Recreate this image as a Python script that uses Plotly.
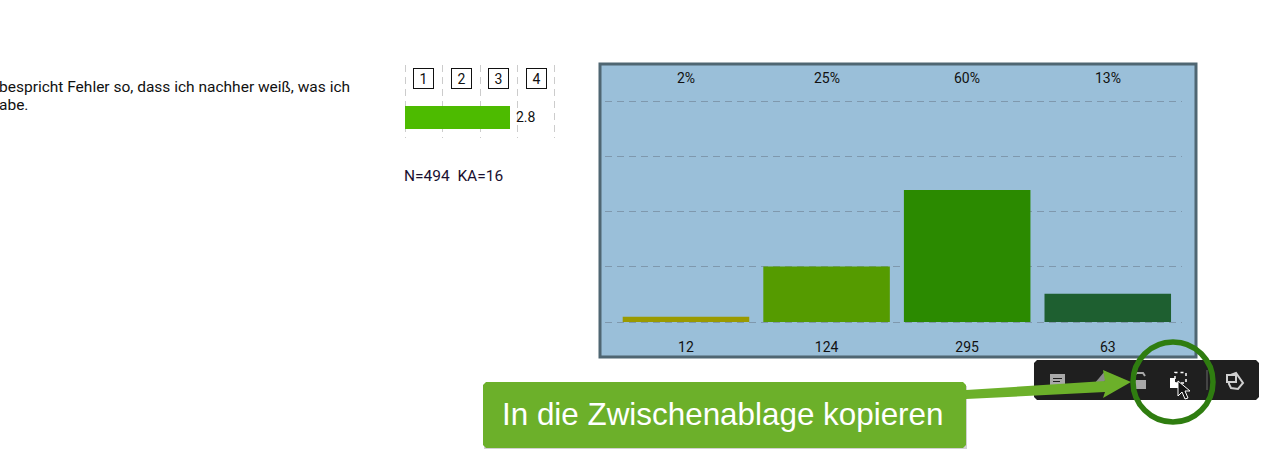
import plotly.graph_objects as go

W, H = 1262, 449

options = [1, 2, 3, 4]
counts = [12, 124, 295, 63]
percents = ["2%", "25%", "60%", "13%"]
bar_colors = ["#9a9a00", "#559b00", "#2b8a00", "#1e5f30"]
mean_score = [2.8]
n_total = 494
n_missing = 16
question_lines = ["bespricht Fehler so, dass ich nachher weiß, was ich", "abe."]
callout_text = "In die Zwischenablage kopieren"


def px(x):
    return x / W


def py(y):
    return 1 - y / H


def path(points, close=True):
    s = "M" + " L".join(f"{px(x):.5f},{py(y):.5f}" for x, y in points)
    return s + (" Z" if close else "")


def box(x0, y0, x1, y1, **kw):
    return dict(type="rect", xref="paper", yref="paper", x0=px(x0), x1=px(x1),
                y0=py(y1), y1=py(y0), **kw)


def poly(points, fill=None, line=None, width=0, close=True, **kw):
    return dict(type="path", xref="paper", yref="paper", path=path(points, close),
                fillcolor=fill, line=dict(color=line, width=width), **kw)


fig = go.Figure()

# main distribution chart
fig.add_trace(go.Bar(x=options, y=counts, width=0.9, marker=dict(color=bar_colors, line_width=0),
                     xaxis="x", yaxis="y", showlegend=False))

# mean bar on the small scale
fig.add_trace(go.Bar(x=mean_score, y=[0], orientation="h", width=1, marker=dict(color="#4dbb00", line_width=0),
                     xaxis="x2", yaxis="y2", showlegend=False))

shapes = [
    # panel behind the chart
    box(600, 64, 1196, 357, fillcolor="#9abfd9", line=dict(color="#4f6672", width=3), layer="below"),
    # toolbar
    dict(type="path", xref="paper", yref="paper", fillcolor="#1f1f1f", line_width=0,
         path=path([(1037, 360), (1256, 360), (1259, 363), (1259, 397), (1256, 400), (1037, 400), (1034, 397), (1034, 363)])),
    box(1050, 374, 1065, 386, fillcolor="#a8a8a8", line_width=0),
    box(1053, 378, 1062, 379, fillcolor="#1f1f1f", line_width=0),
    box(1053, 381, 1060, 382, fillcolor="#1f1f1f", line_width=0),
    poly([(1094, 384), (1105, 371), (1110, 375), (1100, 386)], fill="#8a8a8a"),
    box(1131, 380, 1146, 389, fillcolor="#a8a8a8", line_width=0),
    poly([(1134, 380), (1134, 375), (1137, 373), (1143, 373), (1145, 376)], line="#a8a8a8", width=2, close=False),
    box(1170, 378, 1180, 388, fillcolor="#ffffff", line_width=0),
    box(1175, 372.5, 1186, 383, fillcolor="#1f1f1f", line=dict(color="#ffffff", width=1.5, dash="dot")),
    box(1206.5, 370, 1207.5, 390, fillcolor="#6a6a6a", line_width=0),
    poly([(1228, 376), (1236, 373), (1243, 383), (1238, 389), (1231, 388), (1229, 384)], line="#cfcfcf", width=2),
    poly([(1227, 375), (1236, 375), (1236, 382), (1227, 382)], fill="#1f1f1f", line="#cfcfcf", width=2),
    # callout shadow, box and arrow
    box(484, 386, 967, 450, fillcolor="rgba(0,0,0,0.18)", line_width=0),
    poly([(966, 390), (1105, 381), (1103, 370), (1131, 382), (1103, 398), (1105, 392), (966, 399)], fill="#6cb02a"),
    poly([(486, 382), (963, 382), (966, 385), (966, 445), (963, 448), (486, 448), (483, 445), (483, 385)], fill="#6cb02a"),
    # ring
    dict(type="circle", xref="paper", yref="paper", x0=px(1133), x1=px(1213), y0=py(422), y1=py(342),
         line=dict(color="#2f7d10", width=5.5), fillcolor="rgba(0,0,0,0)"),
    # cursor
    poly([(1178, 381), (1178, 396), (1182, 392), (1185, 399), (1188, 398), (1185, 391), (1190, 391)],
         fill="#111111", line="#ffffff", width=1),
]

annotations = []

for txt, y, x in zip(question_lines, [87, 105], [-3, -3]):
    annotations.append(dict(text=txt, xref="paper", yref="paper", x=px(x), y=py(y), xanchor="left", yanchor="middle",
                            showarrow=False, font=dict(family="Roboto", size=15.5, color="#111")))

for i, opt in enumerate(options):
    # percent row above the main chart
    annotations.append(dict(text=percents[i], xref="x", yref="y domain", x=opt, y=1, yshift=21, yanchor="middle",
                            showarrow=False, font=dict(family="Roboto", size=14, color="#111")))
    # boxed scale labels, centred in each column of the small scale
    annotations.append(dict(text=str(opt), xref="x2", yref="y2", x=opt - 0.5, y=1.7, showarrow=False,
                            width=17, height=17, bordercolor="#111", borderwidth=1, borderpad=1, bgcolor="#ffffff",
                            font=dict(family="Roboto", size=14, color="#111")))

annotations.append(dict(text=str(mean_score[0]), xref="x2", yref="y2", x=mean_score[0], y=0, xanchor="left", xshift=4,
                        showarrow=False, font=dict(family="Roboto", size=14, color="#111")))
annotations.append(dict(text=f"N={n_total}  KA={n_missing}", xref="paper", yref="paper", x=px(402), y=py(176),
                        xanchor="left", yanchor="middle", showarrow=False,
                        font=dict(family="Roboto", size=15.5, color="#1a1030")))
annotations.append(dict(text=callout_text, xref="paper", yref="paper", x=px(723), y=py(414), yanchor="middle",
                        showarrow=False, font=dict(family="Liberation Sans", size=31.4, color="#ffffff")))

fig.update_layout(
    width=W, height=H, autosize=False,
    margin=dict(l=0, r=0, t=0, b=0),
    paper_bgcolor="#ffffff", plot_bgcolor="rgba(0,0,0,0)",
    shapes=shapes, annotations=annotations,
    font=dict(family="Roboto"),
    xaxis=dict(domain=[px(605), px(1182)], range=[0.424, 4.528], tickvals=options, ticktext=[str(c) for c in counts],
               ticks="outside", ticklen=10, tickcolor="rgba(0,0,0,0)", showgrid=False, zeroline=False, showline=False,
               tickfont=dict(family="Roboto", size=14, color="#111"), anchor="y"),
    yaxis=dict(domain=[py(324.24), py(98.76)], range=[-5, n_total + 5], tick0=0, dtick=n_total / 4, showticklabels=False,
               showgrid=True, griddash="7px,5px", gridcolor="#7f98ad", gridwidth=1, zeroline=False, anchor="x"),
    xaxis2=dict(domain=[px(404), px(556)], range=[-0.027, 4.027], tick0=0, dtick=1, showticklabels=False, showgrid=True,
                griddash="7px,5px", gridcolor="#cccccc", gridwidth=1, zeroline=False, anchor="y2"),
    yaxis2=dict(domain=[py(138), py(65)], range=[-0.89, 2.28], showticklabels=False, showgrid=False, zeroline=False,
                anchor="x2"),
)

fig.write_html("out.html", config=dict(displayModeBar=False),
               post_script="document.body.style.margin='0';document.body.style.overflow='hidden';")
